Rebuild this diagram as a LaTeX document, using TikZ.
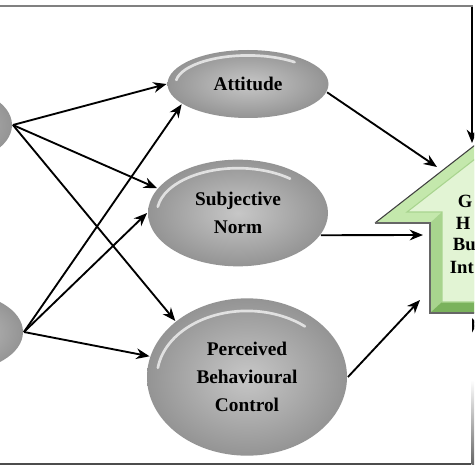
\documentclass[tikz,border=0pt]{standalone}
\usepackage{fontspec}
\setmainfont{Liberation Serif}
\usepackage{xcolor}
\usetikzlibrary{arrows.meta, shapes.geometric, calc}

\definecolor{bevelgreen}{RGB}{196,232,172}
\definecolor{facegreen}{RGB}{226,244,212}
\definecolor{darkgreen}{RGB}{122,178,92}
\definecolor{rimgreen}{RGB}{168,212,142}

\begin{document}
\begin{tikzpicture}[x=0.75pt,y=-0.75pt,->,>={Stealth[length=10pt,width=8pt]},line width=1.4pt]
                \tikzset{construct/.style={ellipse, inner sep=0pt, align=center,
                    font=\fontsize{14.5}{21}\selectfont\bfseries,
                    shading=radial, inner color=black!22, outer color=black!42,
                    path picture={\draw[-, white, line width=2pt, line cap=round, opacity=.7]
                      let \p1=(path picture bounding box.north east), \p2=(path picture bounding box.center),
                          \n1={0.9*(\x1-\x2)}, \n2={0.84*(\y1-\y2)} in
                      ($(\p2)+(172:\n1 and \n2)$) arc[start angle=172, end angle=50, x radius=\n1, y radius=\n2];}},
                  gtext/.style={anchor=west, inner sep=0pt, font=\fontsize{14}{16}\selectfont\bfseries}}

                \useasboundingbox (0,0) rectangle (474,474);
                \clip (0,0) rectangle (474,474);
                \fill[white] (0,0) rectangle (474,474);

                % frame
                \draw[-, black!50, line width=2.2pt] (0,6) -- (473,6);
                \draw[-, black!70, line width=1.6pt] (0,464) -- (471,464);
                \shade[top color=white, bottom color=black!60] (471.5,380) rectangle (474,464);

                % intention arrow shape
                \begin{scope}[-]
                  \fill[bevelgreen] (375,223) -- (430,223) -- (430,313) -- (520,313) -- (520,110) -- cycle;
                  \fill[rimgreen] (430,223) -- (442,212) -- (442,302) -- (430,313) -- cycle;
                  \fill[darkgreen] (430,313) -- (442,302) -- (520,302) -- (520,313) -- cycle;
                  \fill[facegreen, draw=rimgreen, line width=0.8pt] (407,212) -- (442,212) -- (442,302) -- (520,302) -- (520,124) -- cycle;
                  \draw[black!75, line width=0.8pt] (375,223) -- (520,110);
                  \draw[black!60, line width=0.8pt] (375,223) -- (430,223) -- (430,313) -- (520,313);
                \end{scope}

                \node[gtext] (gG) at (457,201) {G};
                \node[gtext] (gH) at (455,223) {H};
                \node[gtext] (gB) at (452,245) {Bu};
                \node[gtext] (gI) at (449,267) {Int};

                \node[construct, minimum width=105pt, minimum height=60pt] (beliefA) at (-58,125) {};
                \node[construct, minimum width=102pt, minimum height=60pt] (beliefB) at (-45,332) {};
                \node[construct, minimum width=120.75pt, minimum height=51pt] (att) at (248,84) {Attitude};
                \node[construct, minimum width=135pt, minimum height=80pt] (sn) at (238,213) {Subjective\\Norm};
                \node[construct, minimum width=150pt, minimum height=118pt] (pbc) at (247,377) {Perceived\\Behavioural\\Control};

                \coordinate (inA) at (437,167);
                \coordinate (inS) at (423,235);
                \coordinate (inP) at (420,300);
                \coordinate (topsrc) at (472,7);
                \coordinate (toptip) at (472,143);
                \coordinate (botsrc) at (483,345);
                \coordinate (bottip) at (472,318);

                \path (beliefA.east) edge (att.west);
                \path (beliefA.east) edge (sn.163);
                \path (beliefA.east) edge (pbc.142);
                \path (beliefB.east) edge (att.197);
                \path (beliefB.east) edge (sn.west);
                \path (beliefB.east) edge (pbc.168);
                \path (att.-6)       edge (inA);
                \path (sn.-15)       edge (inS);
                \path (pbc.east)     edge (inP);
                \path (topsrc)       edge (toptip);
                \path (botsrc)       edge (bottip);
            \end{tikzpicture}
\end{document}
